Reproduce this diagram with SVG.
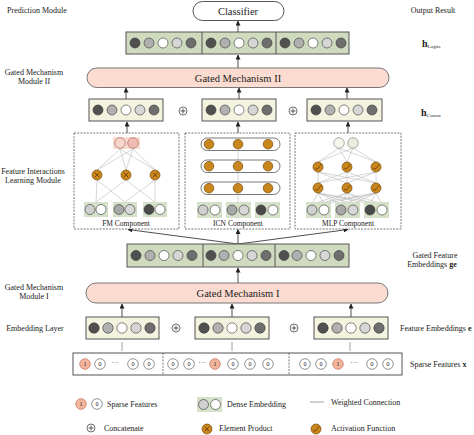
<svg xmlns="http://www.w3.org/2000/svg" width="474" height="435" viewBox="0 0 474 435">
<defs>
<style>
text{font-family:"Liberation Serif","Times New Roman",serif;fill:#222}
.lbl{font-size:8px}
.cmp{font-size:7.5px;text-anchor:middle}
.big{font-size:10.5px;text-anchor:middle}
.e{stroke:#333;stroke-width:0.6}
.k1{fill:#505050}.k2{fill:#b0b0b0}.k3{fill:#fff}.k4{fill:#d6d6d6}.k5{fill:#6e6e6e}
.grn{fill:#cfdabf;stroke:#555;stroke-width:1}
.crm{fill:#f4f3e0;stroke:#555;stroke-width:1}
.gm{fill:#fcdcd0;stroke:#777;stroke-width:1}
.dash{fill:#fff;stroke:#555;stroke-width:0.8;stroke-dasharray:2,1.2}
.pg{fill:#d6e1c9}
.wl{stroke:#bbb;stroke-width:0.6;fill:none}
.arr{stroke:#222;stroke-width:0.8;fill:none;marker-end:url(#ah)}
.vl{stroke:#888;stroke-width:0.8}
.or{fill:#c8861c;stroke:#7a4e0a;stroke-width:0.7}
.mk{stroke:#6a3e05;stroke-width:0.8;fill:none}
.sp0{fill:#fff;stroke:#666;stroke-width:0.7}
.sp1{fill:#f4b49c;stroke:#c07060;stroke-width:0.7}
.st{font-size:6px;text-anchor:middle}
.plus{fill:#fff;stroke:#333;stroke-width:0.7}
</style>
<marker id="ah" markerWidth="5" markerHeight="5" refX="4.5" refY="2.5" orient="auto" markerUnits="userSpaceOnUse"><path d="M0,0 L5,2.5 L0,5 z" fill="#222"/></marker>
<g id="plusg"><circle r="4" class="plus"/><path d="M-2.5,0 H2.5 M0,-2.5 V2.5" stroke="#333" stroke-width="0.8"/></g>
<g id="xp"><circle r="5" class="or"/><path d="M-2.2,-2.2 L2.2,2.2 M2.2,-2.2 L-2.2,2.2" class="mk"/></g>
<g id="act"><circle r="5" class="or"/><path d="M-3,1 Q-1,3 0,1.5 T3.5,-3" class="mk"/></g>
</defs>
<rect width="474" height="435" fill="#fff"/>

<!-- side labels -->
<g id="labels">
<text class="lbl" x="37" y="13" text-anchor="middle">Prediction Module</text>
<text class="lbl" x="433" y="13" text-anchor="middle">Output Result</text>
<text class="lbl" x="34" y="75" text-anchor="middle">Gated Mechanism</text>
<text class="lbl" x="34" y="84" text-anchor="middle">Module II</text>
<text class="lbl" x="33" y="174" text-anchor="middle">Feature Interactions</text>
<text class="lbl" x="33" y="183" text-anchor="middle">Learning Module</text>
<text class="lbl" x="34" y="290" text-anchor="middle">Gated Mechanism</text>
<text class="lbl" x="34" y="299" text-anchor="middle">Module I</text>
<text class="lbl" x="35" y="331" text-anchor="middle">Embedding Layer</text>
<text x="422" y="47" style="font-size:10px;font-weight:bold">h<tspan style="font-size:5px;font-weight:normal" dy="1">Logits</tspan></text>
<text x="421" y="116" style="font-size:10px;font-weight:bold">h<tspan style="font-size:5px;font-weight:normal" dy="1">Concat</tspan></text>
<text class="lbl" x="435" y="258" text-anchor="middle">Gated Feature</text>
<text class="lbl" x="432" y="267" text-anchor="middle">Embeddings  <tspan style="font-weight:bold">ge</tspan></text>
<text class="lbl" x="400" y="331">Feature Embeddings  <tspan style="font-weight:bold">e</tspan></text>
<text class="lbl" x="410" y="367">Sparse Features  <tspan style="font-weight:bold">x</tspan></text>
</g>

<!-- connectors -->
<g id="connectors">
<path class="arr" d="M238,32 V21"/>
<path class="arr" d="M238,68 V55"/>
<path class="arr" d="M126,99 V88"/>
<path class="arr" d="M239,99 V88"/>
<path class="arr" d="M347,99 V88"/>
<path class="arr" d="M127,133 V122"/>
<path class="arr" d="M238,133 V122"/>
<path class="arr" d="M348,133 V122"/>
<path class="arr" d="M238,244 L128,229.5"/>
<path class="arr" d="M238,244 V229.5"/>
<path class="arr" d="M238,244 L348,229.5"/>
<path class="arr" d="M238,283 V268"/>
<path class="arr" d="M122,317 V304"/>
<path class="arr" d="M232,317 V304"/>
<path class="arr" d="M351,317 V304"/>
<path class="vl" d="M122,342 V351 M232,342 V351 M350,342 V351"/>
</g>

<!-- classifier -->
<g id="classifier">
<rect x="193" y="1.5" width="91" height="19" rx="9.5" fill="#fff" stroke="#555" stroke-width="1"/>
<text class="big" x="238" y="15">Classifier</text>
</g>

<!-- h logits -->
<g id="hlogits">
<rect class="grn" x="126" y="32" width="223" height="22"/>
<path d="M202,32 V54 M276,32 V54" stroke="#555" stroke-width="1"/>
<g transform="translate(0,43)">
<circle class="e k1" cx="135" r="5"/><circle class="e k2" cx="149" r="5"/><circle class="e k3" cx="163" r="5"/><circle class="e k4" cx="177" r="5"/><circle class="e k5" cx="191" r="5"/>
<circle class="e k1" cx="211" r="5"/><circle class="e k2" cx="225" r="5"/><circle class="e k3" cx="239" r="5"/><circle class="e k4" cx="253" r="5"/><circle class="e k5" cx="267" r="5"/>
<circle class="e k1" cx="285" r="5"/><circle class="e k2" cx="299" r="5"/><circle class="e k3" cx="313" r="5"/><circle class="e k4" cx="327" r="5"/><circle class="e k5" cx="341" r="5"/>
</g>
</g>

<!-- gated mechanism II -->
<g id="gm2">
<rect class="gm" x="87" y="68" width="302" height="19.5" rx="9.75"/>
<text class="big" x="238" y="81.5">Gated Mechanism II</text>
</g>

<!-- h concat -->
<g id="hconcat">
<rect class="crm" x="89" y="99" width="74" height="22"/>
<rect class="crm" x="202" y="99" width="74" height="22"/>
<rect class="crm" x="307" y="99" width="75" height="22"/>
<g transform="translate(0,110)">
<circle class="e k1" cx="98" r="5"/><circle class="e k2" cx="112" r="5"/><circle class="e k3" cx="126" r="5"/><circle class="e k4" cx="140" r="5"/><circle class="e k5" cx="154" r="5"/>
<circle class="e k1" cx="211" r="5"/><circle class="e k2" cx="225" r="5"/><circle class="e k3" cx="239" r="5"/><circle class="e k4" cx="253" r="5"/><circle class="e k5" cx="267" r="5"/>
<circle class="e k1" cx="316" r="5"/><circle class="e k2" cx="330" r="5"/><circle class="e k3" cx="344" r="5"/><circle class="e k4" cx="358" r="5"/><circle class="e k5" cx="372" r="5"/>
</g>
<use href="#plusg" x="183" y="111"/>
<use href="#plusg" x="293" y="111"/>
</g>

<!-- FM component -->
<g id="fm">
<rect class="dash" x="74" y="133" width="105" height="96"/>
<path class="wl" d="M120,149 L97,170 M120,149 L126,170 M120,149 L155,170 M133,149 L97,170 M133,149 L126,170 M133,149 L155,170"/>
<path class="wl" d="M97,180 L96,202 M97,180 L125,202 M126,180 L96,202 M126,180 L155,202 M155,180 L125,202 M155,180 L155,202"/>
<rect x="113" y="137" width="27" height="12" fill="#f9dcd0"/>
<circle cx="120" cy="143" r="5.3" fill="#f6d6cb" stroke="#b06a60" stroke-width="0.7"/>
<circle cx="133" cy="143" r="5.3" fill="#eebcb2" stroke="#b06a60" stroke-width="0.7"/>
<use href="#xp" x="97" y="175"/><use href="#xp" x="126" y="175"/><use href="#xp" x="155" y="175"/>
<rect class="pg" x="84" y="202" width="24" height="15"/>
<rect class="pg" x="113" y="202" width="24" height="15"/>
<rect class="pg" x="143" y="202" width="24" height="15"/>
<circle class="e" cx="90" cy="209.5" r="5" fill="#d0d0d0"/><circle class="e" cx="101" cy="209.5" r="5" fill="#fff"/>
<circle class="e" cx="119" cy="209.5" r="5" fill="#a8a8a8"/><circle class="e" cx="130" cy="209.5" r="5" fill="#d8d8d8"/>
<circle class="e" cx="149" cy="209.5" r="5" fill="#4a4a4a"/><circle class="e" cx="160" cy="209.5" r="5" fill="#fff"/>
<text class="cmp" x="126" y="226">FM Component</text>
</g>

<!-- ICN component -->
<g id="icn">
<rect class="dash" x="185" y="133" width="105" height="96"/>
<path class="wl" d="M238,138 V202"/>
<rect x="201" y="138" width="79" height="12.5" rx="6.25" fill="#fff" stroke="#555" stroke-width="0.8"/>
<rect x="201" y="160" width="79" height="12.5" rx="6.25" fill="#fff" stroke="#555" stroke-width="0.8"/>
<rect x="201" y="182" width="79" height="12.5" rx="6.25" fill="#fff" stroke="#555" stroke-width="0.8"/>
<circle class="or" cx="209" cy="144.2" r="4.8"/><circle class="or" cx="238" cy="144.2" r="4.8"/><circle class="or" cx="268" cy="144.2" r="4.8"/>
<circle class="or" cx="209" cy="166.2" r="4.8"/><circle class="or" cx="238" cy="166.2" r="4.8"/><circle class="or" cx="268" cy="166.2" r="4.8"/>
<circle class="or" cx="209" cy="188.2" r="4.8"/><circle class="or" cx="238" cy="188.2" r="4.8"/><circle class="or" cx="268" cy="188.2" r="4.8"/>
<rect class="pg" x="197" y="202" width="25" height="16"/>
<rect class="pg" x="226" y="202" width="25" height="16"/>
<rect class="pg" x="255" y="202" width="25" height="16"/>
<circle class="e" cx="203" cy="210" r="5" fill="#d0d0d0"/><circle class="e" cx="215" cy="210" r="5" fill="#fff"/>
<circle class="e" cx="232" cy="210" r="5" fill="#a8a8a8"/><circle class="e" cx="244" cy="210" r="5" fill="#d8d8d8"/>
<circle class="e" cx="261" cy="210" r="5" fill="#4a4a4a"/><circle class="e" cx="273" cy="210" r="5" fill="#fff"/>
<text class="cmp" x="238" y="226">ICN Component</text>
</g>

<!-- MLP component -->
<g id="mlp">
<rect class="dash" x="295" y="133" width="106" height="96"/>
<path class="wl" d="M339,148 L318,162 M339,148 L347,162 M339,148 L376,162 M353,148 L318,162 M353,148 L347,162 M353,148 L376,162"/>
<path class="wl" d="M318,172 L318,183 M318,172 L347,183 M318,172 L376,183 M347,172 L318,183 M347,172 L347,183 M347,172 L376,183 M376,172 L318,183 M376,172 L347,183 M376,172 L376,183"/>
<path class="wl" d="M318,193 L312,204 M318,193 L324,204 M318,193 L341,204 M318,193 L353,204 M318,193 L370,204 M318,193 L382,204 M347,193 L312,204 M347,193 L324,204 M347,193 L341,204 M347,193 L353,204 M347,193 L370,204 M347,193 L382,204 M376,193 L312,204 M376,193 L324,204 M376,193 L341,204 M376,193 L353,204 M376,193 L370,204 M376,193 L382,204"/>
<circle cx="339" cy="143" r="5.3" fill="#f6f6ea" stroke="#888" stroke-width="0.7"/>
<circle cx="353" cy="143" r="5.3" fill="#ecece0" stroke="#888" stroke-width="0.7"/>
<use href="#act" x="318" y="167"/><use href="#act" x="347" y="167"/><use href="#act" x="376" y="167"/>
<use href="#act" x="318" y="188"/><use href="#act" x="347" y="188"/><use href="#act" x="376" y="188"/>
<rect class="pg" x="306" y="202" width="25" height="16"/>
<rect class="pg" x="335" y="202" width="25" height="16"/>
<rect class="pg" x="364" y="202" width="25" height="16"/>
<circle class="e" cx="312" cy="210" r="5" fill="#d0d0d0"/><circle class="e" cx="324" cy="210" r="5" fill="#fff"/>
<circle class="e" cx="341" cy="210" r="5" fill="#a8a8a8"/><circle class="e" cx="353" cy="210" r="5" fill="#d8d8d8"/>
<circle class="e" cx="370" cy="210" r="5" fill="#4a4a4a"/><circle class="e" cx="382" cy="210" r="5" fill="#fff"/>
<text class="cmp" x="348" y="226">MLP Component</text>
</g>

<!-- gated feature embeddings -->
<g id="ge">
<rect class="grn" x="127" y="244" width="222" height="23"/>
<path d="M203,244 V267 M275,244 V267" stroke="#555" stroke-width="1"/>
<g transform="translate(0,255.5)">
<circle class="e k1" cx="136" r="5"/><circle class="e k2" cx="150" r="5"/><circle class="e k3" cx="164" r="5"/><circle class="e k4" cx="178" r="5"/><circle class="e k5" cx="192" r="5"/>
<circle class="e k1" cx="211" r="5"/><circle class="e k2" cx="224" r="5"/><circle class="e k3" cx="238" r="5"/><circle class="e k4" cx="252" r="5"/><circle class="e k5" cx="266" r="5"/>
<circle class="e k1" cx="284" r="5"/><circle class="e k2" cx="297" r="5"/><circle class="e k3" cx="311" r="5"/><circle class="e k4" cx="325" r="5"/><circle class="e k5" cx="339" r="5"/>
</g>
</g>

<!-- gated mechanism I -->
<g id="gm1">
<rect class="gm" x="86" y="283" width="302" height="20" rx="10"/>
<text class="big" x="238" y="297">Gated Mechanism I</text>
</g>

<!-- embedding layer -->
<g id="embed">
<rect class="crm" x="86" y="317" width="73" height="22"/>
<rect class="crm" x="195" y="317" width="74" height="22"/>
<rect class="crm" x="314" y="317" width="74" height="22"/>
<g transform="translate(0,328)">
<circle class="e k1" cx="94" r="5.2"/><circle class="e k2" cx="108" r="5.2"/><circle class="e k3" cx="122" r="5.2"/><circle class="e k4" cx="136" r="5.2"/><circle class="e k5" cx="150" r="5.2"/>
<circle class="e k1" cx="204" r="5.2"/><circle class="e k2" cx="218" r="5.2"/><circle class="e k3" cx="232" r="5.2"/><circle class="e k4" cx="246" r="5.2"/><circle class="e k5" cx="260" r="5.2"/>
<circle class="e k1" cx="323" r="5.2"/><circle class="e k2" cx="337" r="5.2"/><circle class="e k3" cx="351" r="5.2"/><circle class="e k4" cx="365" r="5.2"/><circle class="e k5" cx="379" r="5.2"/>
</g>
<use href="#plusg" x="176" y="328"/>
<use href="#plusg" x="294" y="328"/>
</g>

<!-- sparse features -->
<g id="sparse">
<rect x="73" y="353" width="329" height="22" fill="#fff" stroke="#555" stroke-width="1"/>
<path d="M163,353 V375 M289,353 V375" stroke="#555" stroke-width="0.8" stroke-dasharray="2,1.2"/>
<g transform="translate(0,364)">
<circle class="sp1" cx="85" r="5.3"/><text class="st" x="85" y="2">1</text>
<circle class="sp0" cx="100" r="5.3"/><text class="st" x="100" y="2">0</text>
<text class="st" x="115" y="1" style="font-size:8px;fill:#555">···</text>
<circle class="sp0" cx="133" r="5.3"/><text class="st" x="133" y="2">0</text>
<circle class="sp0" cx="149" r="5.3"/><text class="st" x="149" y="2">0</text>
<circle class="sp0" cx="173" r="5.3"/><text class="st" x="173" y="2">0</text>
<circle class="sp0" cx="189" r="5.3"/><text class="st" x="189" y="2">0</text>
<text class="st" x="202" y="1" style="font-size:8px;fill:#555">···</text>
<circle class="sp1" cx="215" r="5.3"/><text class="st" x="215" y="2">1</text>
<circle class="sp0" cx="233" r="5.3"/><text class="st" x="233" y="2">0</text>
<circle class="sp0" cx="250" r="5.3"/><text class="st" x="250" y="2">0</text>
<circle class="sp0" cx="268" r="5.3"/><text class="st" x="268" y="2">0</text>
<circle class="sp0" cx="305" r="5.3"/><text class="st" x="305" y="2">0</text>
<circle class="sp0" cx="321" r="5.3"/><text class="st" x="321" y="2">0</text>
<circle class="sp1" cx="338" r="5.3"/><text class="st" x="338" y="2">1</text>
<text class="st" x="354" y="1" style="font-size:8px;fill:#555">···</text>
<circle class="sp0" cx="372" r="5.3"/><text class="st" x="372" y="2">0</text>
<circle class="sp0" cx="388" r="5.3"/><text class="st" x="388" y="2">0</text>
</g>
</g>

<!-- legend -->
<g id="legend">
<circle class="sp1" cx="81" cy="404" r="5.3"/><text class="st" x="81" y="406">1</text>
<circle class="sp0" cx="97" cy="404" r="5.3"/><text class="st" x="97" y="406">0</text>
<text class="lbl" x="107" y="407">Sparse Features</text>
<rect class="pg" x="197" y="397" width="25" height="15"/>
<circle class="e" cx="203.5" cy="404.5" r="5" fill="#d0d0d0"/><circle class="e" cx="215.5" cy="404.5" r="5" fill="#fff"/>
<text class="lbl" x="227" y="407">Dense Embedding</text>
<path d="M310,402 H324" stroke="#888" stroke-width="0.8"/>
<text class="lbl" x="331" y="405">Weighted Connection</text>
<use href="#plusg" x="91" y="428"/>
<text class="lbl" x="104" y="431">Concatenate</text>
<use href="#xp" x="207" y="429"/>
<text class="lbl" x="219" y="431">Element Product</text>
<use href="#act" x="316" y="429"/>
<text class="lbl" x="331" y="431">Activation Function</text>
</g>
</svg>
